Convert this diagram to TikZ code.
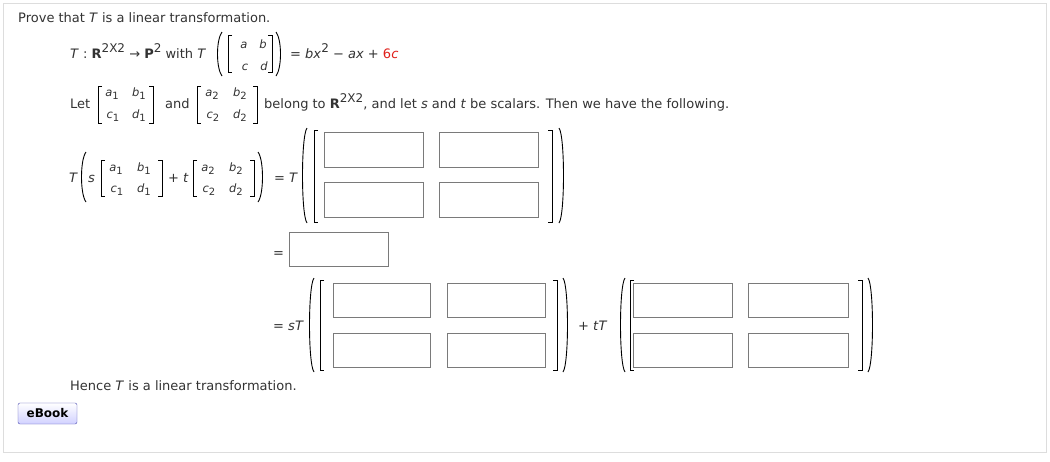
\documentclass[tikz,border=0pt]{standalone}
\usepackage{fontspec}
\setmainfont{DejaVu Sans}
\begin{document}
\begin{tikzpicture}[x=1pt,y=-1pt,
  txt/.style={anchor=base west,inner sep=0pt,text=textc,font=\fontsize{13}{15}\selectfont},
  ent/.style={anchor=base,inner sep=0pt,text=textc,font=\fontsize{11.5}{13}\selectfont\itshape},
  brk/.style={draw=black,line width=0.8pt},
  prn/.style={draw=black,line width=0.9pt},
  ansbox/.style={draw=boxc,line width=1pt,fill=white}]
\definecolor{textc}{HTML}{333333}
\definecolor{boxc}{HTML}{7A7A7A}
\definecolor{framec}{HTML}{DDDDDD}
\definecolor{redc}{HTML}{E0201B}
\newcommand\Lbk[3]{\draw[brk] (#1+4,#2)--(#1,#2)--(#1,#3)--(#1+4,#3);}
\newcommand\Rbk[3]{\draw[brk] (#1-4,#2)--(#1,#2)--(#1,#3)--(#1-4,#3);}
\newcommand\Lpr[3]{\draw[prn] (#1+5,#2) .. controls (#1-1,#2+8) and (#1-1,#3-8) .. (#1+5,#3);}
\newcommand\Rpr[3]{\draw[prn] (#1-5,#2) .. controls (#1+1,#2+8) and (#1+1,#3-8) .. (#1-5,#3);}
\newcommand\Sb[1]{\raisebox{-3pt}{\fontsize{10}{11}\selectfont\upshape #1}}
\newcommand\Sp[1]{\raisebox{6pt}{\fontsize{12}{13}\selectfont #1}}
\useasboundingbox (0,0) rectangle (1050,461);
\fill[white] (0,0) rectangle (1050,461);
\draw[framec,line width=1pt] (3,3) rectangle (1046,452);
% line 1
\node[txt] (l1) at (18,22) {Prove that \textit{T} is a linear transformation.};
% line 2
\node[txt] (l2) at (70,58) {\textit{T} : \textbf{R}\Sp{2X2} → \textbf{P}\Sp{2} with \textit{T}};
\Lpr{217}{32}{76}\Lbk{228}{35}{72}\Rbk{272}{35}{72}\Rpr{281}{32}{76}
\node[ent] (ma) at (244,48) {a};\node[ent] (mb) at (263,48) {b};
\node[ent] (mc) at (245,70) {c};\node[ent] (md) at (264,70) {d};
\node[txt] (l2b) at (290,58) {= \textit{b}\textit{x}\Sp{2} − \textit{ax} + \textcolor{redc}{6\textit{c}}};
% line 3
\node[txt] (let) at (70,108) {Let};
\Lbk{98}{86}{123}\Rbk{153}{86}{123}
\node[ent] (a1) at (112,96) {a\Sb1};\node[ent] (b1) at (139,96) {b\Sb1};
\node[ent] (c1) at (113,118) {c\Sb1};\node[ent] (d1) at (139,118) {d\Sb1};
\node[txt] (and) at (165,108) {and};
\Lbk{197}{86}{123}\Rbk{257}{86}{123}
\node[ent] (a2) at (212,96) {a\Sb2};\node[ent] (b2) at (240,96) {b\Sb2};
\node[ent] (c2) at (213,118) {c\Sb2};\node[ent] (d2) at (240,118) {d\Sb2};
\node[txt] (bel) at (264,108) {belong to \textbf{R}\Sp{2X2}, and let \textit{s} and \textit{t} be scalars. Then we have the following.};
% line 4
\node[txt] (T4) at (69,182) {\textit{T}};
\Lpr{81}{152}{202}
\node[txt] (s4) at (88,182) {\textit{s}};
\Lbk{101}{160}{196}\Rbk{162}{160}{196}
\node[ent] (a1b) at (116,171) {a\Sb1};\node[ent] (b1b) at (144,171) {b\Sb1};
\node[ent] (c1b) at (117,192) {c\Sb1};\node[ent] (d1b) at (144,192) {d\Sb1};
\node[txt] (pt) at (168,182) {+ \textit{t}};
\Lbk{193}{160}{196}\Rbk{254}{160}{196}
\node[ent] (a2b) at (208,171) {a\Sb2};\node[ent] (b2b) at (236,171) {b\Sb2};
\node[ent] (c2b) at (209,192) {c\Sb2};\node[ent] (d2b) at (236,192) {d\Sb2};
\Rpr{263}{152}{202}
\node[txt] (eqT) at (274,182) {= \textit{T}};
\Lpr{302}{128}{223}\Lbk{314}{130}{222}\Rbk{552}{130}{222}\Rpr{564}{128}{223}
\draw[ansbox] (324,132) rectangle (423,167);
\draw[ansbox] (439,132) rectangle (538,167);
\draw[ansbox] (324,182) rectangle (423,217);
\draw[ansbox] (439,182) rectangle (538,217);
% line 5
\node[txt] (eq5) at (273,257) {=};
\draw[ansbox] (289,232) rectangle (388,266);
% line 6
\node[txt] (eq6) at (273,330) {= \textit{s}\textit{T}};
\Lpr{309}{278}{372}\Lbk{320}{280}{370}\Rbk{557}{280}{370}\Rpr{568}{278}{372}
\draw[ansbox] (333,283) rectangle (430,317);
\draw[ansbox] (447,283) rectangle (545,317);
\draw[ansbox] (333,333) rectangle (430,367);
\draw[ansbox] (447,333) rectangle (545,367);
\node[txt] (pt6) at (578,330) {+ \textit{t}\textit{T}};
\Lpr{620}{278}{372}\Lbk{630}{280}{370}\Rbk{862}{280}{370}\Rpr{873}{278}{372}
\draw[ansbox] (633,283) rectangle (732,317);
\draw[ansbox] (748,283) rectangle (848,317);
\draw[ansbox] (633,333) rectangle (732,367);
\draw[ansbox] (748,333) rectangle (848,367);
% hence
\node[txt] (hence) at (70,390) {Hence \textit{T} is a linear transformation.};
% ebook
\shade[top color=white,bottom color=blue!18,draw=blue!40!gray,rounded corners=2pt] (18,403) rectangle (77,424);
\node[anchor=center,font=\fontsize{12}{14}\selectfont\bfseries,text=black] (eb) at (47.5,413.5) {eBook};
\end{tikzpicture}
\end{document}
